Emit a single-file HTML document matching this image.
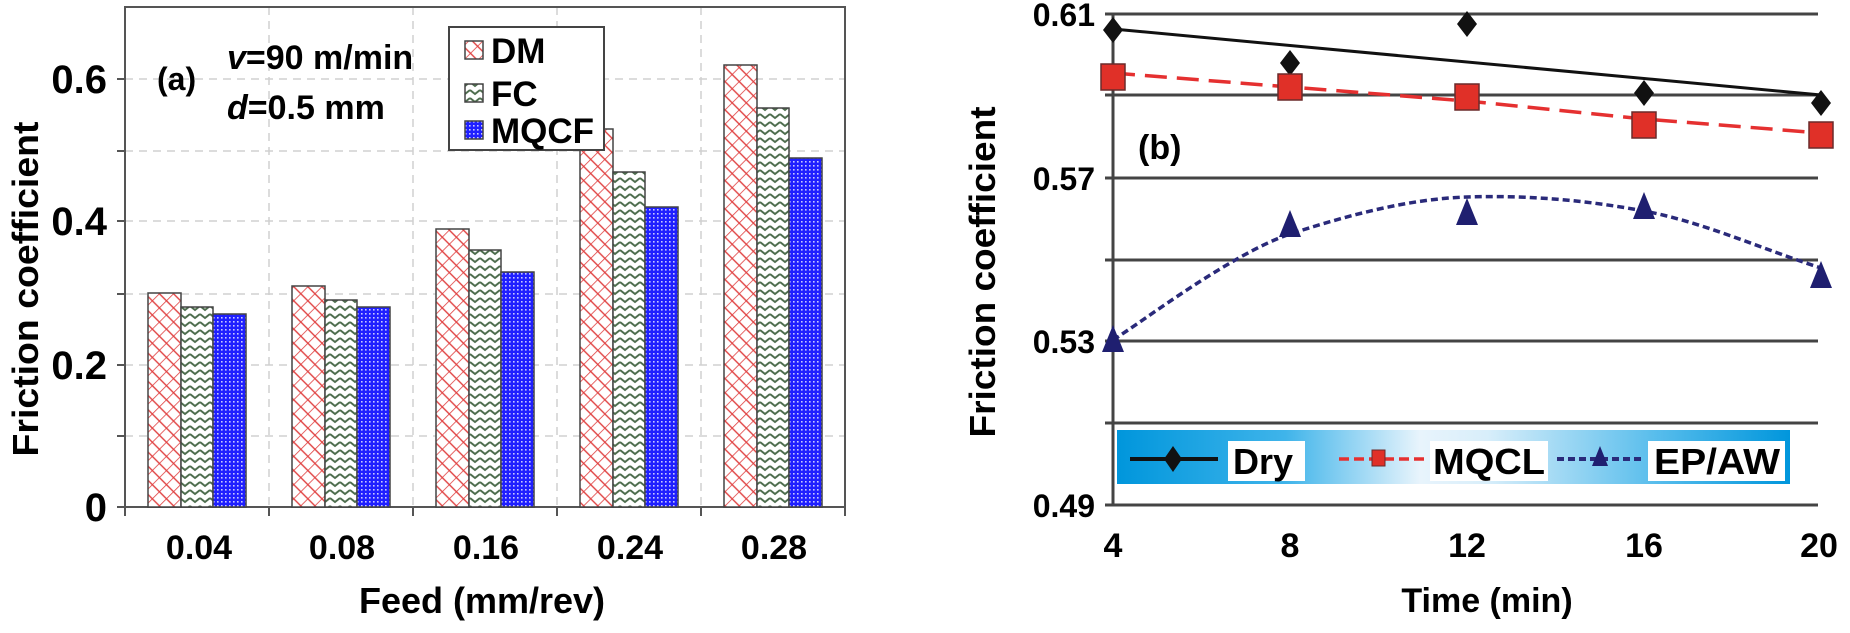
<!DOCTYPE html>
<html><head><meta charset="utf-8"><style>
html,body{margin:0;padding:0;background:#fff;}
svg{display:block;}
text{font-family:"Liberation Sans",Arial,sans-serif;font-weight:bold;fill:#000;}
</style></head><body>
<svg width="1850" height="633" viewBox="0 0 1850 633" xmlns="http://www.w3.org/2000/svg">
<defs>
<pattern id="pDM" width="10" height="10" patternUnits="userSpaceOnUse" patternTransform="rotate(-45)">
<rect width="10" height="10" fill="#fff"/>
<line x1="0" y1="0" x2="10" y2="0" stroke="#e04040" stroke-width="1.6"/>
<line x1="5" y1="0" x2="5" y2="10" stroke="#e04040" stroke-width="1.4"/>
</pattern>
<pattern id="pFC" width="10" height="8" patternUnits="userSpaceOnUse">
<rect width="10" height="8" fill="#fff"/>
<polyline points="0,2 5,6 10,2" fill="none" stroke="#4f6e4f" stroke-width="2"/>
</pattern>
<pattern id="pMQ" width="4" height="4" patternUnits="userSpaceOnUse">
<rect width="4" height="4" fill="#1f1fff"/>
<rect x="1" y="1" width="1.6" height="1.6" fill="#c8c8ff"/>
</pattern>
<linearGradient id="lg" x1="0" x2="1" y1="0" y2="0">
<stop offset="0" stop-color="#0096dc"/>
<stop offset="0.25" stop-color="#3fb4ea"/>
<stop offset="0.45" stop-color="#e8f4fc"/>
<stop offset="0.55" stop-color="#d8eefa"/>
<stop offset="0.8" stop-color="#58bdec"/>
<stop offset="1" stop-color="#0096dc"/>
</linearGradient>
</defs>

<!-- LEFT CHART -->
<g stroke="#d0d0d0" stroke-width="1.5" stroke-dasharray="8,6">
<line x1="125" y1="436" x2="845" y2="436"/>
<line x1="125" y1="365" x2="845" y2="365"/>
<line x1="125" y1="294" x2="845" y2="294"/>
<line x1="125" y1="221" x2="845" y2="221"/>
<line x1="125" y1="151" x2="845" y2="151"/>
<line x1="125" y1="79" x2="845" y2="79"/>
<line x1="269" y1="7" x2="269" y2="507"/>
<line x1="413" y1="7" x2="413" y2="507"/>
<line x1="557" y1="7" x2="557" y2="507"/>
<line x1="701" y1="7" x2="701" y2="507"/>
</g>
<rect x="125" y="7" width="720" height="500" fill="none" stroke="#555" stroke-width="2"/>
<g stroke="#555" stroke-width="2">
<line x1="117" y1="507" x2="125" y2="507"/><line x1="117" y1="436" x2="125" y2="436"/>
<line x1="117" y1="365" x2="125" y2="365"/><line x1="117" y1="294" x2="125" y2="294"/>
<line x1="117" y1="221" x2="125" y2="221"/><line x1="117" y1="151" x2="125" y2="151"/>
<line x1="117" y1="79" x2="125" y2="79"/>
<line x1="125" y1="507" x2="125" y2="516"/><line x1="269" y1="507" x2="269" y2="516"/>
<line x1="413" y1="507" x2="413" y2="516"/><line x1="557" y1="507" x2="557" y2="516"/>
<line x1="701" y1="507" x2="701" y2="516"/><line x1="845" y1="507" x2="845" y2="516"/>
</g>
<g stroke="#444" stroke-width="1.5">
<rect x="148" y="293" width="33" height="214" fill="url(#pDM)"/>
<rect x="181" y="307" width="32" height="200" fill="url(#pFC)"/>
<rect x="213" y="314" width="33" height="193" fill="url(#pMQ)"/>
<rect x="292" y="286" width="33" height="221" fill="url(#pDM)"/>
<rect x="325" y="300" width="32" height="207" fill="url(#pFC)"/>
<rect x="357" y="307" width="33" height="200" fill="url(#pMQ)"/>
<rect x="436" y="229" width="33" height="278" fill="url(#pDM)"/>
<rect x="469" y="250" width="32" height="257" fill="url(#pFC)"/>
<rect x="501" y="272" width="33" height="235" fill="url(#pMQ)"/>
<rect x="580" y="129" width="33" height="378" fill="url(#pDM)"/>
<rect x="613" y="172" width="32" height="335" fill="url(#pFC)"/>
<rect x="645" y="207" width="33" height="300" fill="url(#pMQ)"/>
<rect x="724" y="65" width="33" height="442" fill="url(#pDM)"/>
<rect x="757" y="108" width="32" height="399" fill="url(#pFC)"/>
<rect x="789" y="158" width="33" height="349" fill="url(#pMQ)"/>
</g>
<g font-size="40" text-anchor="end">
<text x="107" y="93">0.6</text>
<text x="107" y="235">0.4</text>
<text x="107" y="379">0.2</text>
<text x="107" y="521">0</text>
</g>
<g font-size="34" text-anchor="middle">
<text x="199" y="559">0.04</text>
<text x="342" y="559">0.08</text>
<text x="486" y="559">0.16</text>
<text x="630" y="559">0.24</text>
<text x="774" y="559">0.28</text>
</g>
<text x="482" y="613" font-size="36" text-anchor="middle">Feed (mm/rev)</text>
<text transform="translate(38,289) rotate(-90)" font-size="36" text-anchor="middle" textLength="335" lengthAdjust="spacingAndGlyphs">Friction coefficient</text>
<text x="157" y="90" font-size="32">(a)</text>
<text x="227" y="69" font-size="34"><tspan font-style="italic">v</tspan>=90 m/min</text>
<text x="227" y="119" font-size="34"><tspan font-style="italic">d</tspan>=0.5 mm</text>
<rect x="449" y="27" width="155" height="123" fill="#fff" stroke="#444" stroke-width="2"/>
<rect x="465" y="41" width="18" height="18" fill="url(#pDM)" stroke="#444" stroke-width="1.5"/>
<rect x="465" y="84" width="18" height="18" fill="url(#pFC)" stroke="#444" stroke-width="1.5"/>
<rect x="465" y="121" width="18" height="18" fill="url(#pMQ)" stroke="#444" stroke-width="1.5"/>
<g font-size="35">
<text x="491" y="63">DM</text>
<text x="491" y="106">FC</text>
<text x="491" y="143">MQCF</text>
</g>

<!-- RIGHT CHART -->
<g stroke="#444" stroke-width="3">
<line x1="1105" y1="14" x2="1818" y2="14"/>
<line x1="1105" y1="95" x2="1818" y2="95"/>
<line x1="1105" y1="178" x2="1818" y2="178"/>
<line x1="1105" y1="260" x2="1818" y2="260"/>
<line x1="1105" y1="341" x2="1818" y2="341"/>
<line x1="1105" y1="423" x2="1818" y2="423"/>
<line x1="1105" y1="505" x2="1818" y2="505"/>
<line x1="1113" y1="14" x2="1113" y2="505"/>
</g>
<g font-size="32" text-anchor="end">
<text x="1095" y="26">0.61</text>
<text x="1095" y="190">0.57</text>
<text x="1095" y="353">0.53</text>
<text x="1095" y="517">0.49</text>
</g>
<g font-size="34" text-anchor="middle">
<text x="1113" y="557">4</text>
<text x="1290" y="557">8</text>
<text x="1467" y="557">12</text>
<text x="1644" y="557">16</text>
<text x="1819" y="557">20</text>
</g>
<text x="1487" y="612" font-size="34" text-anchor="middle">Time (min)</text>
<text transform="translate(995,272) rotate(-90)" font-size="36" text-anchor="middle" textLength="331" lengthAdjust="spacingAndGlyphs">Friction coefficient</text>
<text x="1138" y="159" font-size="34">(b)</text>

<!-- series -->
<line x1="1113" y1="29" x2="1821" y2="95" stroke="#111" stroke-width="3"/>
<polyline points="1113,73 1290,87 1467,101 1644,119 1821,133" fill="none" stroke="#e53030" stroke-width="3.5" stroke-dasharray="22,10"/>
<path d="M1113,340 C1142,322 1231,254 1290,234 C1349,215 1408,199 1467,197 C1526,195 1585,200 1644,211 C1703,222 1762,249 1821,268" fill="none" stroke="#2a2a7a" stroke-width="3.5" stroke-dasharray="7,4"/>
<g fill="#111">
<polygon points="1113,17 1123,30 1113,43 1103,30"/>
<polygon points="1290,50 1300,63 1290,76 1280,63"/>
<polygon points="1467,11 1477,24 1467,37 1457,24"/>
<polygon points="1644,80 1654,93 1644,106 1634,93"/>
<polygon points="1821,90 1831,103 1821,116 1811,103"/>
</g>
<g fill="#e03028" stroke="#6a2a2a" stroke-width="1.5">
<rect x="1101" y="64" width="24" height="26"/>
<rect x="1278" y="74" width="24" height="26"/>
<rect x="1455" y="84" width="24" height="26"/>
<rect x="1632" y="112" width="24" height="26"/>
<rect x="1809" y="122" width="24" height="26"/>
</g>
<g fill="#1f1f70">
<polygon points="1113,325 1124,352 1102,352"/>
<polygon points="1290,210 1301,237 1279,237"/>
<polygon points="1467,198 1478,225 1456,225"/>
<polygon points="1644,192 1655,219 1633,219"/>
<polygon points="1821,261 1832,288 1810,288"/>
</g>

<!-- legend -->
<rect x="1117" y="430" width="673" height="54" fill="url(#lg)"/>
<rect x="1228" y="441" width="77" height="40" fill="#fff"/>
<rect x="1430" y="441" width="118" height="40" fill="#fff"/>
<rect x="1648" y="441" width="137" height="40" fill="#fff"/>
<line x1="1130" y1="459" x2="1218" y2="459" stroke="#111" stroke-width="4"/>
<polygon points="1173,446 1182,459 1173,472 1164,459" fill="#111"/>
<line x1="1339" y1="459" x2="1424" y2="459" stroke="#e53030" stroke-width="3.5" stroke-dasharray="10,5"/>
<rect x="1372" y="450" width="13" height="16" fill="#e03028" stroke="#6a2a2a" stroke-width="1"/>
<line x1="1557" y1="459" x2="1643" y2="459" stroke="#2a2a7a" stroke-width="4" stroke-dasharray="7,4"/>
<polygon points="1600,446 1608,466 1592,466" fill="#1f1f70"/>
<g font-size="36">
<text x="1233" y="474">Dry</text>
<text x="1433" y="474" textLength="112" lengthAdjust="spacingAndGlyphs">MQCL</text>
<text x="1654" y="474" textLength="126" lengthAdjust="spacingAndGlyphs">EP/AW</text>
</g>
</svg>
</body></html>
